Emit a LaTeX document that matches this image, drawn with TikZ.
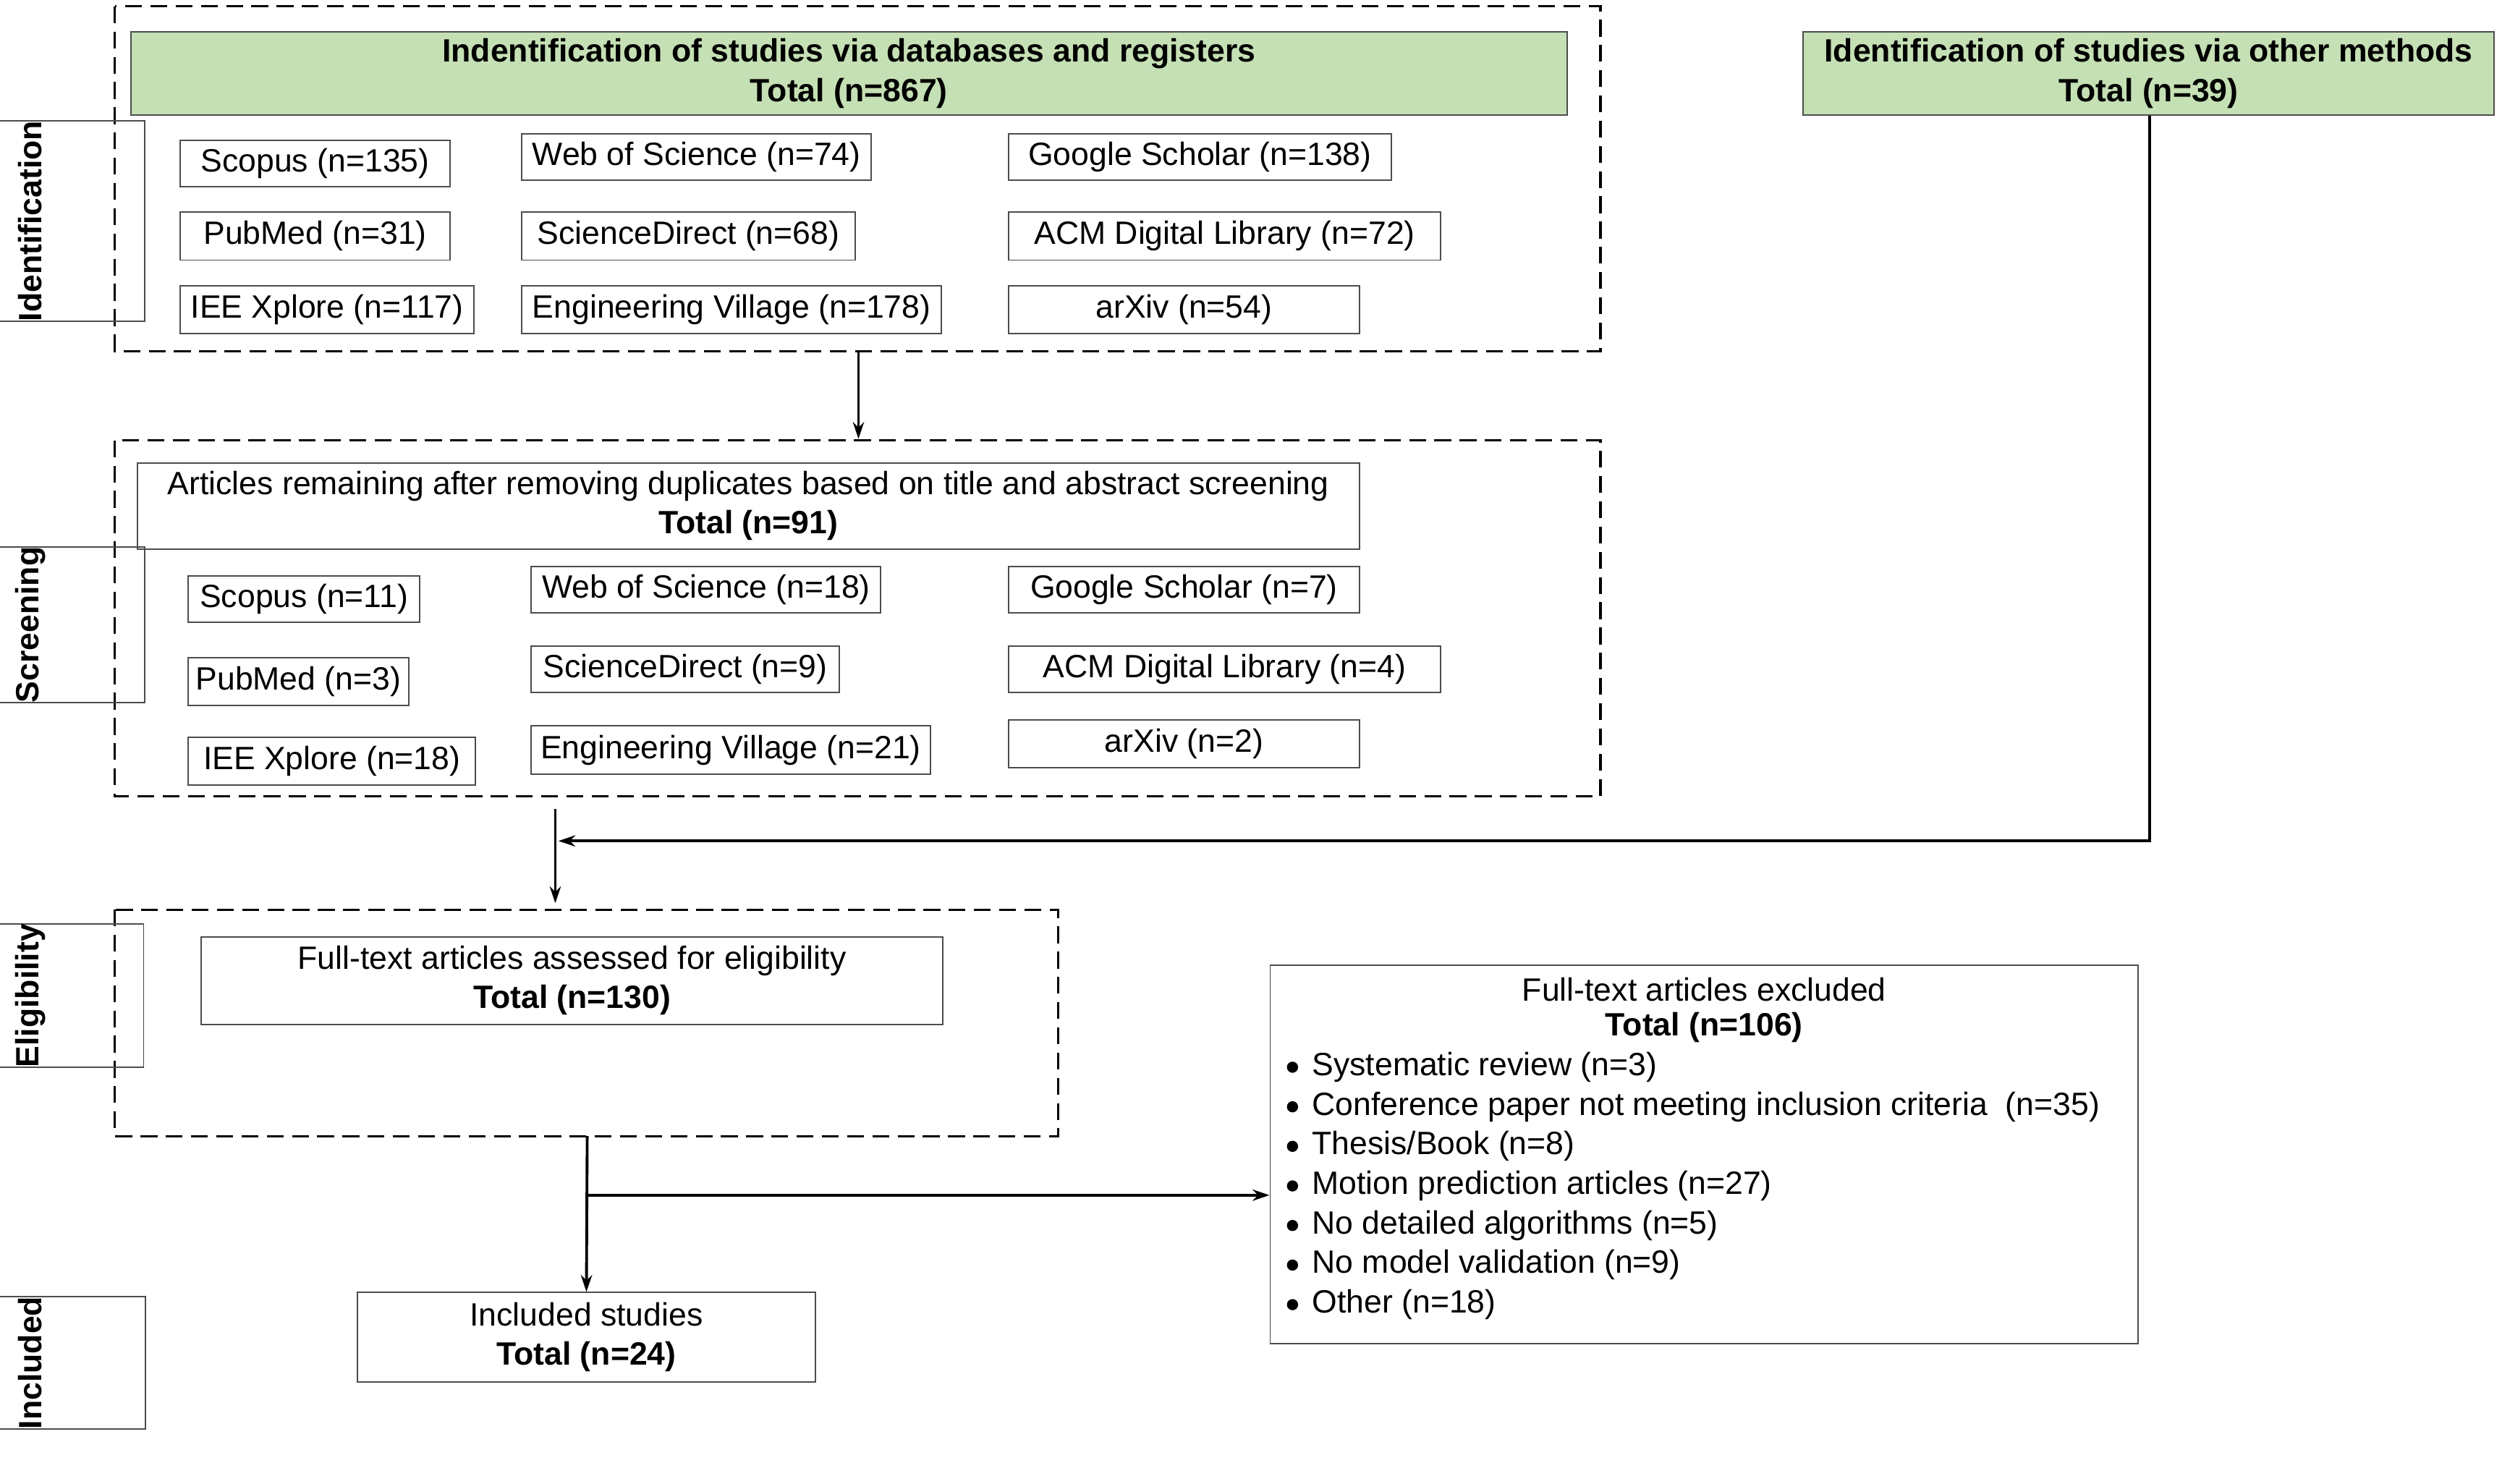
\documentclass[tikz,border=0pt]{standalone}
\usepackage{fontspec}
\setmainfont{Liberation Sans}
\usetikzlibrary{arrows.meta}
\begin{document}
\begin{tikzpicture}[x=0.02cm,y=-0.02cm,font=\fontsize{11.5}{14}\selectfont,
 box/.style={draw=black!70,line width=0.5pt,inner sep=0pt,align=center},
 dashbox/.style={draw,line width=0.8pt,dash pattern=on 6pt off 3pt},
 arr/.style={line width=1pt,-{Stealth[length=6pt,width=4pt]}},
 side/.style={box,rotate=90,font=\fontsize{11.5}{14}\selectfont\bfseries}]
\newcommand\bx[7][box]{\node[#1,minimum width={(#5-#3)*0.02cm},minimum height={(#6-#4)*0.02cm}] (#2) at ({(#3+#5)/2},{(#4+#6)/2}) {#7};}
\useasboundingbox (0,0) rectangle (1568,930);
\definecolor{gr}{HTML}{C5E0B4}
% dashed boxes
\draw[dashbox] (72,4) rectangle (1003,220);
\draw[dashbox] (72,276) rectangle (1003,499);
\draw[dashbox] (72,570) rectangle (663,712);
\coordinate (d1) at (538,220); \coordinate (d2) at (538,275);
% headers
\bx[box,fill=gr]{h1}{82}{20}{982}{72}{\bfseries Indentification of studies via databases and registers\\\bfseries Total (n=867)}
\bx[box,fill=gr]{h2}{1130}{20}{1563}{72}{\bfseries Identification of studies via other methods\\\bfseries Total (n=39)}
% row boxes 1
\bx{a1}{113}{88}{282}{117}{Scopus (n=135)}
\bx{a2}{327}{84}{546}{113}{Web of Science (n=74)}
\bx{a3}{632}{84}{872}{113}{Google Scholar (n=138)}
\bx{a4}{113}{133}{282}{163}{PubMed (n=31)}
\bx{a5}{327}{133}{536}{163}{ScienceDirect (n=68)}
\bx{a6}{632}{133}{903}{163}{ACM Digital Library (n=72)}
\bx{a7}{113}{179}{297}{209}{IEE Xplore (n=117)}
\bx{a8}{327}{179}{590}{209}{Engineering Village (n=178)}
\bx{a9}{632}{179}{852}{209}{arXiv (n=54)}
% screening
\bx{s0}{86}{290}{852}{344}{Articles remaining after removing duplicates based on title and abstract screening\\\bfseries Total (n=91)}
\bx{b1}{118}{361}{263}{390}{Scopus (n=11)}
\bx{b2}{333}{355}{552}{384}{Web of Science (n=18)}
\bx{b3}{632}{355}{852}{384}{Google Scholar (n=7)}
\bx{b4}{118}{412}{256}{442}{PubMed (n=3)}
\bx{b5}{333}{405}{526}{434}{ScienceDirect (n=9)}
\bx{b6}{632}{405}{903}{434}{ACM Digital Library (n=4)}
\bx{b7}{118}{462}{298}{492}{IEE Xplore (n=18)}
\bx{b8}{333}{455}{583}{485}{Engineering Village (n=21)}
\bx{b9}{632}{451}{852}{481}{arXiv (n=2)}
% eligibility
\bx{e1}{126}{587}{591}{642}{Full-text articles assessed for eligibility\\\bfseries Total (n=130)}
\bx{inc}{224}{810}{511}{866}{Included studies\\\bfseries Total (n=24)}
\bx{exc}{796}{605}{1340}{842}{}
\node (x0) at (1068,620) {Full-text articles excluded};
\node[font=\fontsize{11.5}{14}\selectfont\bfseries] (x1) at (1068,644) {Total (n=106)};
\foreach \t [count=\i] in {Systematic review (n=3),Conference paper not meeting inclusion criteria~~(n=35),Thesis/Book (n=8),Motion prediction articles (n=27),No detailed algorithms (n=5),No model validation (n=9),Other (n=18)}{
 \fill (810,{644+24.8*\i}) circle (3.5);
 \node[anchor=west,inner sep=0pt] (xb\i) at (822,{644+24.8*\i}) {\t};}
% side labels
\bx[side]{l1}{5}{67}{33}{210}{Identification}
\bx[side]{l2}{5}{320}{33}{463}{Screening}
\bx[side]{l3}{5}{553}{33}{695}{Eligibility}
\bx[side]{l4}{5}{782}{33}{926}{Included}
% connectors
\draw[arr] (d1) -- (d2);
\coordinate (o1) at (1347,527); \coordinate (o2) at (350,527);
\draw[arr] (h2.south -| o1) -- (o1) -- (o2);
\coordinate (p1) at (348,507); \coordinate (p2) at (348,566);
\draw[arr] (p1) -- (p2);
\coordinate (q1) at (368,712); \coordinate (q2) at (368,749);
\draw[arr] (q1) -- (inc.north);
\draw[arr] (q2) -- (exc.west |- q2);
\end{tikzpicture}
\end{document}
